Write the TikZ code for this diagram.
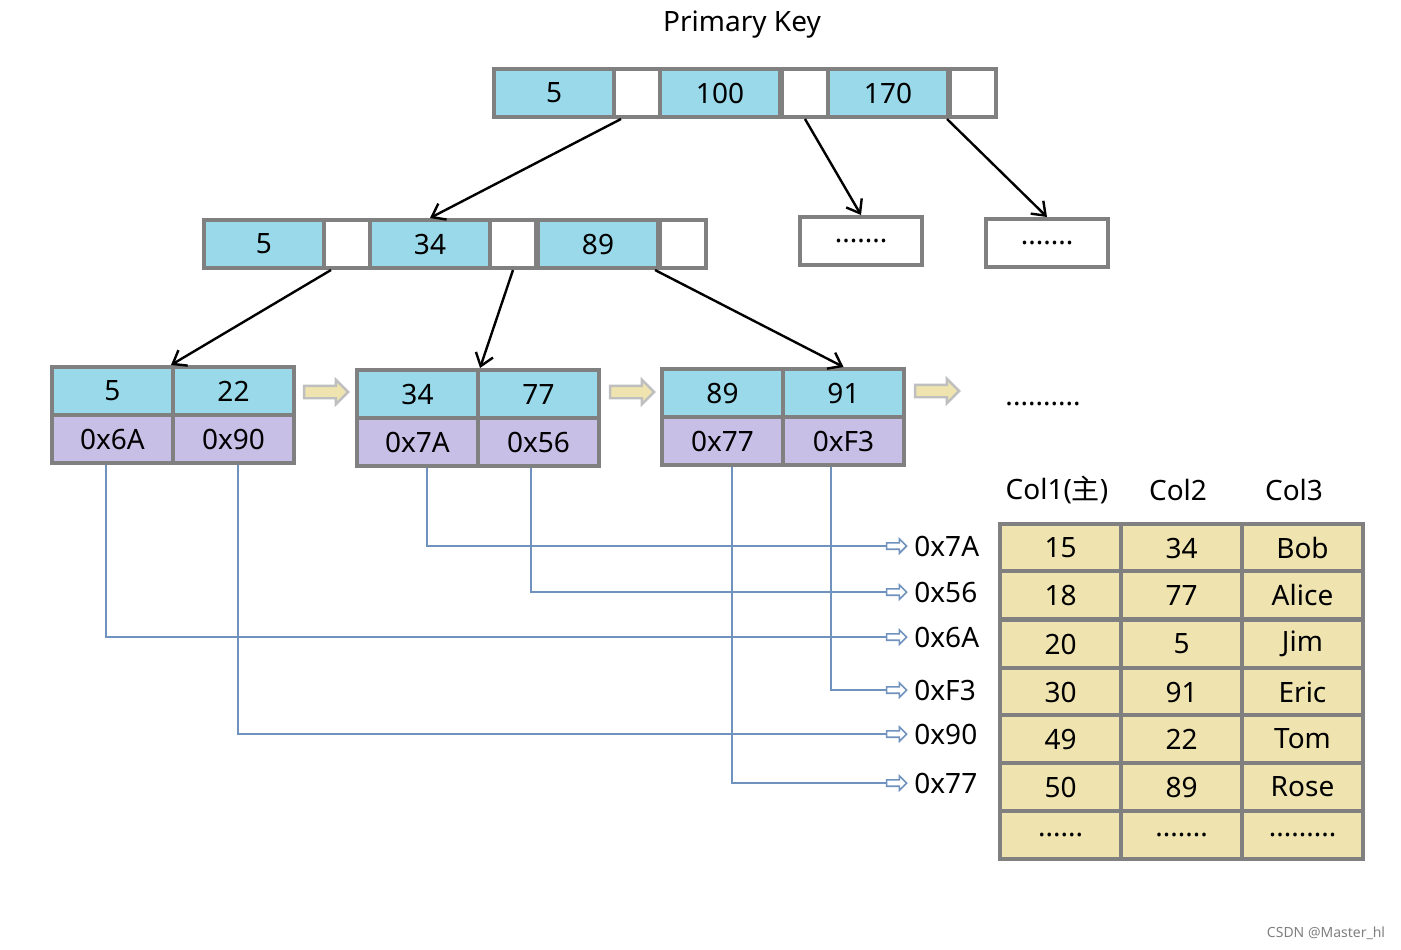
\documentclass[tikz,border=0pt]{standalone}
\usepackage{fontspec}
\setmainfont{Noto Sans}
\newfontfamily\cjk{Noto Sans CJK SC}
\usetikzlibrary{arrows.meta,positioning,shapes.arrows}

\definecolor{keycyan}{HTML}{99D9EA}
\definecolor{ptrpurple}{HTML}{C8BFE7}
\definecolor{rowyellow}{HTML}{EFE4B0}
\definecolor{linkblue}{HTML}{7092BE}

\tikzset{
  cell/.style={draw=gray,line width=2pt,inner sep=0pt,anchor=north west,
    minimum height=24pt,font=\fontsize{14}{16}\selectfont},
  key/.style={cell,fill=keycyan,minimum width=60pt},
  gap/.style={cell,fill=white,minimum width=23pt},
  ptr/.style={cell,fill=ptrpurple,minimum width=60.5pt},
  row/.style={cell,fill=rowyellow,minimum width=60.5pt},
  down/.style={-{Straight Barb[length=6pt,width=9pt]},line width=1.2pt},
  link/.style={draw=linkblue,line width=1pt},
  tip/.style={single arrow,draw=linkblue,fill=white,line width=0.8pt,
    minimum height=10pt,single arrow head extend=2pt,inner sep=1.2pt},
  next/.style={single arrow,draw=gray!50,fill=rowyellow,line width=1.2pt,
    minimum height=22pt,single arrow head extend=3pt,inner sep=2.5pt},
  addr/.style={font=\fontsize{14}{16}\selectfont,anchor=west,inner sep=1pt}
}

\begin{document}
\begin{tikzpicture}[x=0.5pt,y=-0.5pt]
\useasboundingbox (0,0) rectangle (1401,949);

\node[font=\fontsize{14}{16}\selectfont] (title) at (742,25) {Primary Key};

% root
\node[key] (r1) at (492,67) {5};
\node[gap] (r2) at (612,67) {};
\node[key] (r3) at (658,67) {100};
\node[gap] (r4) at (780,67) {};
\node[key] (r5) at (826,67) {170};
\node[gap] (r6) at (948,67) {};

% second level
\node[key] (m1) at (202,218) {5};
\node[gap] (m2) at (322,218) {};
\node[key] (m3) at (368,218) {34};
\node[gap] (m4) at (488,218) {};
\node[key] (m5) at (536,218) {89};
\node[gap] (m6) at (658,218) {};

\node[cell,minimum width=61pt] (d1) at (798,215) {.......};
\node[cell,minimum width=61pt] (d2) at (984,217) {.......};

% leaves
\node[key,minimum width=60.5pt] (a1) at (50,365) {5};
\node[key,minimum width=60.5pt] (a2) at (171,365) {22};
\node[ptr] (a3) at (50,413) {0x6A};
\node[ptr] (a4) at (171,413) {0x90};

\node[key,minimum width=60.5pt] (b1) at (355,368) {34};
\node[key,minimum width=60.5pt] (b2) at (476,368) {77};
\node[ptr] (b3) at (355,416) {0x7A};
\node[ptr] (b4) at (476,416) {0x56};

\node[key,minimum width=60.5pt] (c1) at (660,367) {89};
\node[key,minimum width=60.5pt] (c2) at (781,367) {91};
\node[ptr] (c3) at (660,415) {0x77};
\node[ptr] (c4) at (781,415) {0xF3};

\node[next] (n1) at (323,392) {};
\node[next] (n2) at (629,392) {};
\node[next] (n3) at (934,391) {};
\node[font=\fontsize{14}{16}\selectfont\bfseries] (more) at (1043,404) {..........};

% tree pointers
\draw[down] (r2.south) ++(-8pt,0) coordinate (s1) -- (m3.north);
\draw[down] (r4.south) -- (d1.north);
\draw[down] (r6.south) ++(-13pt,0) coordinate (s2) -- (d2.north);
\draw[down] (m2.south) ++(-8pt,0) coordinate (s3) -- (a2.north west);
\draw[down] (m4.south) -- (b1.north east);
\draw[down] (m6.south) ++(-14pt,0) coordinate (s4) -- (c2.north);

% table
\node[font=\fontsize{14}{16}\selectfont] (h1) at (1057,490) {Col1({\cjk 主})};
\node[font=\fontsize{14}{16}\selectfont] (h2) at (1178,490) {Col2};
\node[font=\fontsize{14}{16}\selectfont] (h3) at (1294,490) {Col3};
\foreach \y/\p/\q/\r [count=\i] in {522/15/34/Bob,569/18/77/Alice,618/20/5/Jim,
    666/30/91/Eric,713/49/22/Tom,761/50/89/Rose}
  {\node[row] (t\i a) at (998,\y) {\p};
   \node[row] (t\i b) at (1119,\y) {\q};
   \node[row] (t\i c) at (1240,\y) {\r};}
\node[row] (t7a) at (998,809) {......};
\node[row] (t7b) at (1119,809) {.......};
\node[row] (t7c) at (1240,809) {.........};

% addresses
\foreach \y/\t/\n in {546/0x7A/p7A,592/0x56/p56,637/0x6A/p6A,690/0xF3/pF3,734/0x90/p90,783/0x77/p77}
  {\node[tip] (\n) at (895,\y) {};
   \node[addr] (\n l) at (912,\y) {\t};}

\draw[link] ([xshift=4.5pt]b3.south) |- (p7A.west);
\draw[link] ([xshift=-4pt]b4.south) |- (p56.west);
\draw[link] ([xshift=-3.5pt]a3.south) |- (p6A.west);
\draw[link] ([xshift=-6.5pt]c4.south) |- (pF3.west);
\draw[link] ([xshift=2pt]a4.south) |- (p90.west);
\draw[link] ([xshift=4.5pt]c3.south) |- (p77.west);

\node[font=\fontsize{7}{8}\selectfont,text=gray] (mark) at (1326,933) {CSDN @Master\_hl};
\end{tikzpicture}
\end{document}
